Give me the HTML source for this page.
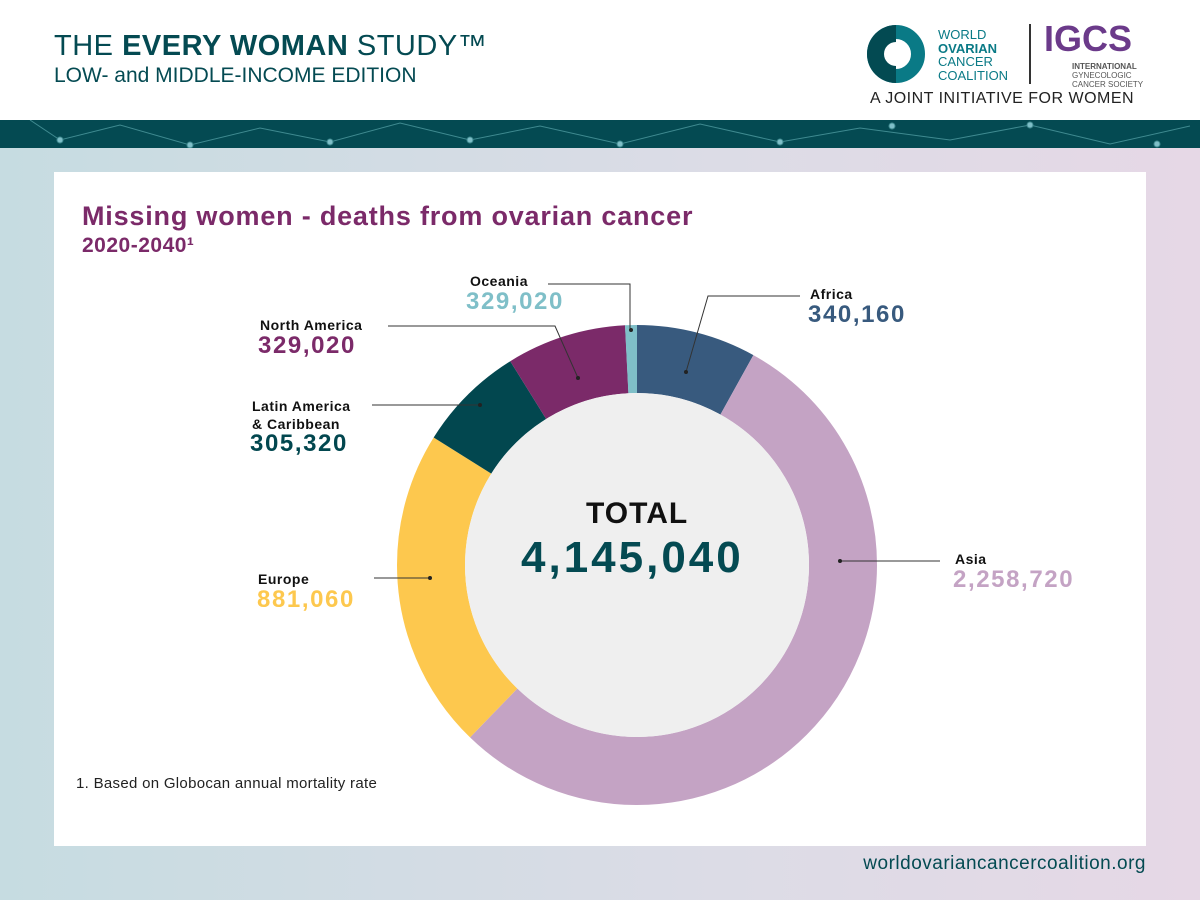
<!DOCTYPE html>
<html><head><meta charset="utf-8"><style>
body{margin:0;width:1200px;height:900px;overflow:hidden;font-family:"Liberation Sans",sans-serif;background:linear-gradient(90deg,#c6dce1,#dcdce6 60%,#e6d8e6);position:relative}
.hdr{position:absolute;left:0;top:0;width:1200px;height:120px;background:#fff}
.band{position:absolute;left:0;top:120px;width:1200px;height:28px;background:#044a52}
.panel{position:absolute;left:54px;top:172px;width:1092px;height:674px;background:#fff}
.t{position:absolute;white-space:nowrap}
.n{letter-spacing:1.6px}
</style></head><body>
<div class="hdr"></div>
<div class="band"><svg width="1200" height="28"><g stroke="#3f8a90" stroke-width="1" fill="#7fbfc8">
<path d="M30 0L60 20L120 5L190 25L260 8L330 22L400 3L470 20L540 6L620 24L700 4L780 22L860 8L950 20L1030 5L1110 24L1190 6" fill="none"/>
<circle cx="60" cy="20" r="3"/><circle cx="190" cy="25" r="3"/><circle cx="330" cy="22" r="3"/><circle cx="470" cy="20" r="3"/><circle cx="620" cy="24" r="3"/><circle cx="780" cy="22" r="3"/><circle cx="892" cy="6" r="3"/><circle cx="1030" cy="5" r="3"/><circle cx="1157" cy="24" r="3"/></g></svg></div>
<div class="t" style="left:54px;top:30px;font-size:29px;color:#044a52;letter-spacing:0.5px">THE <b>EVERY WOMAN</b> STUDY™</div>
<div class="t" style="left:54px;top:64px;font-size:21px;color:#044a52">LOW- and MIDDLE-INCOME EDITION</div>
<svg style="position:absolute;left:864px;top:22px" width="70" height="64"><circle cx="32" cy="32" r="22" fill="none" stroke="#0a7a86" stroke-width="14"/><path d="M32 3A29 29 0 0 0 32 61Z" fill="#034a52"/><circle cx="32" cy="32" r="12" fill="#fff"/></svg>
<div class="t" style="left:938px;top:28px;font-size:13px;line-height:13.5px;color:#0a7a86">WORLD<br><b>OVARIAN</b><br>CANCER<br>COALITION</div>
<div style="position:absolute;left:1029px;top:24px;width:2px;height:60px;background:#333"></div>
<div class="t" style="left:1044px;top:18px;font-size:36px;font-weight:bold;color:#6b3a8a">IGCS</div>
<div class="t" style="left:1072px;top:62px;font-size:8px;line-height:9px;color:#555"><b>INTERNATIONAL</b><br>GYNECOLOGIC<br>CANCER SOCIETY</div>
<div class="t" style="left:870px;top:90px;font-size:16px;color:#222;letter-spacing:0.5px">A JOINT INITIATIVE FOR WOMEN</div>
<div class="panel"></div>
<div class="t" style="left:82px;top:201px;font-size:27px;font-weight:bold;color:#7b2a69;letter-spacing:0.8px">Missing women - deaths from ovarian cancer</div>
<div class="t" style="left:82px;top:234px;font-size:21px;font-weight:bold;color:#7b2a69;letter-spacing:0.5px">2020-2040¹</div>
<svg style="position:absolute;left:0;top:0" width="1200" height="900">
<g transform="rotate(-90 637 565)" fill="none" stroke-width="68">
<circle cx="637" cy="565" r="206" stroke="#385a7e" stroke-dasharray="104.3 1300" stroke-dashoffset="0"/>
<circle cx="637" cy="565" r="206" stroke="#c4a3c4" stroke-dasharray="701.1 1300" stroke-dashoffset="-104.3"/>
<circle cx="637" cy="565" r="206" stroke="#fdc84e" stroke-dasharray="280.4 1300" stroke-dashoffset="-805.4"/>
<circle cx="637" cy="565" r="206" stroke="#02474f" stroke-dasharray="93.5 1300" stroke-dashoffset="-1085.8"/>
<circle cx="637" cy="565" r="206" stroke="#7b2a69" stroke-dasharray="104.3 1300" stroke-dashoffset="-1179.3"/>
<circle cx="637" cy="565" r="206" stroke="#7fbfc8" stroke-dasharray="10.8 1300" stroke-dashoffset="-1283.5"/>
</g>
<circle cx="637" cy="565" r="172" fill="#efefef"/>
<g stroke="#333" stroke-width="1" fill="none">
<path d="M548 284H630V330"/><path d="M800 296H708L686 372"/><path d="M388 326H555L578 378"/><path d="M372 405H480"/><path d="M374 578H430"/><path d="M840 561H940"/></g>
<g fill="#222"><circle cx="631" cy="330" r="2"/><circle cx="686" cy="372" r="2"/><circle cx="578" cy="378" r="2"/><circle cx="480" cy="405" r="2"/><circle cx="430" cy="578" r="2"/><circle cx="840" cy="561" r="2"/></g>
</svg>
<div class="t" style="left:586px;top:497px;font-size:30px;font-weight:bold;color:#111;letter-spacing:1px">TOTAL</div>
<div class="t" style="left:521px;top:533px;font-size:44px;font-weight:bold;color:#044a52;letter-spacing:3px">4,145,040</div>
<div class="t" style="left:470px;top:273px;font-size:14px;font-weight:bold;color:#111;letter-spacing:0.5px">Oceania</div>
<div class="t n" style="left:466px;top:288px;font-size:24px;font-weight:bold;color:#7fbfc8">329,020</div>
<div class="t" style="left:810px;top:286px;font-size:14px;font-weight:bold;color:#111;letter-spacing:0.5px">Africa</div>
<div class="t n" style="left:808px;top:301px;font-size:24px;font-weight:bold;color:#385a7e">340,160</div>
<div class="t" style="left:260px;top:317px;font-size:14px;font-weight:bold;color:#111;letter-spacing:0.5px">North America</div>
<div class="t n" style="left:258px;top:332px;font-size:24px;font-weight:bold;color:#7b2a69">329,020</div>
<div class="t" style="left:252px;top:397px;font-size:14px;line-height:18px;font-weight:bold;color:#111;letter-spacing:0.5px">Latin America<br>&amp; Caribbean</div>
<div class="t n" style="left:250px;top:430px;font-size:24px;font-weight:bold;color:#02474f">305,320</div>
<div class="t" style="left:258px;top:571px;font-size:14px;font-weight:bold;color:#111;letter-spacing:0.5px">Europe</div>
<div class="t n" style="left:257px;top:586px;font-size:24px;font-weight:bold;color:#fdc84e">881,060</div>
<div class="t" style="left:955px;top:551px;font-size:14px;font-weight:bold;color:#111;letter-spacing:0.5px">Asia</div>
<div class="t n" style="left:953px;top:566px;font-size:24px;font-weight:bold;color:#c4a3c4">2,258,720</div>
<div class="t" style="left:76px;top:775px;font-size:15px;color:#222;letter-spacing:0.3px">1. Based on Globocan annual mortality rate</div>
<div class="t" style="right:54px;top:853px;font-size:19px;color:#044a52;letter-spacing:0.5px">worldovariancancercoalition.org</div>
</body></html>
